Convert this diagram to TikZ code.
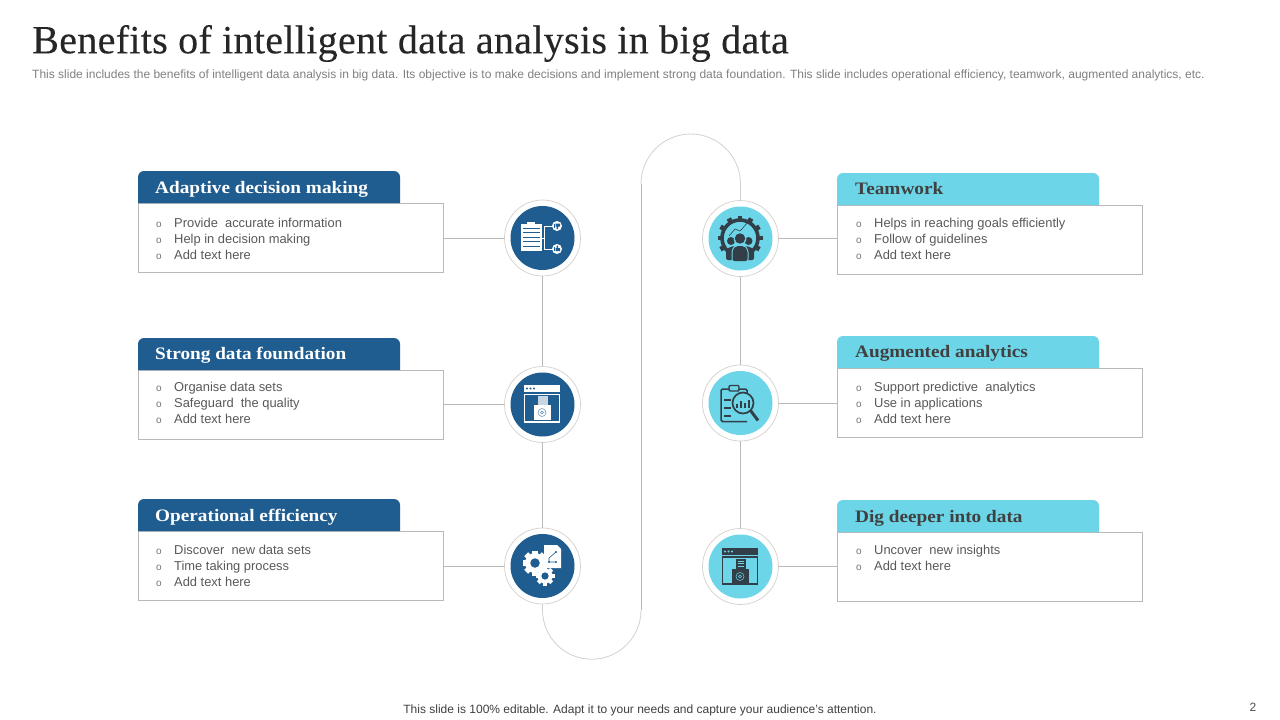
\documentclass[tikz,border=0pt]{standalone}
\usepackage{fontspec}
\setmainfont{Liberation Sans}
\newfontfamily\titlefont[LetterSpace=.7,FakeBold=.15]{Liberation Serif}
\newfontfamily\tabfont[FakeStretch=1.1]{Liberation Serif}
\definecolor{tabblue}{HTML}{1F5C8F}
\definecolor{tabcyan}{HTML}{6CD5E8}
\definecolor{icondark}{HTML}{333F48}
\definecolor{wirecol}{HTML}{B9B9B9}
\definecolor{ringcol}{HTML}{D6CFCB}
\definecolor{bodytext}{HTML}{595959}
\newcommand{\bul}{\makebox[18pt][l]{\textcolor{black!55}{\fontsize{10}{16}\selectfont o}}}
% one gear: x, y, radius, colour, colour of the hole
\newcommand{\cog}[5]{
  \foreach \a in {0,45,...,315} \fill[#4,shift={(#1,#2)},rotate=\a](-#3*.22,-#3*.75)rectangle(#3*.22,-#3);
  \fill[#4](#1,#2)circle(#3*.8);
  \fill[#5](#1,#2)circle(#3*.38);
}
% tab on top of a box: left, top, right, colour
\newcommand{\tabshape}[4]{
  \fill[#4](#1,#2+32)--(#1,#2+6)arc(180:270:6)--(#3-6,#2)arc(270:360:6)--(#3,#2+32)--cycle;
}
\tikzset{
  wire/.style={draw=wirecol,line width=.8pt},
  softwire/.style={draw=wirecol!65,line width=.8pt},
  bodybox/.style={draw=wirecol,fill=white,line width=.8pt,anchor=north west,minimum width=305pt,minimum height=68.5pt,inner sep=0pt},
  ring/.style={circle,draw=ringcol,fill=white,line width=.7pt,minimum size=76pt,inner sep=0pt},
  disc/.style={circle,minimum size=64pt,inner sep=0pt},
  tabtext/.style={anchor=base west,inner sep=0pt,font=\tabfont\fontsize{17.5}{17.5}\selectfont\bfseries},
  listtext/.style={anchor=north west,inner sep=0pt,align=left,text=bodytext,font=\fontsize{12.9}{16}\selectfont},
}
\begin{document}
\begin{tikzpicture}[x=1pt,y=-1pt]
  \useasboundingbox(0,0)rectangle(1280,720);
  \fill[white](0,0)rectangle(1280,720);
  \node[anchor=west,inner sep=0pt,text=black!85,font=\titlefont\fontsize{40.1}{40}\selectfont](title)at(32,43.5){Benefits of intelligent data analysis in big data};
  \node[anchor=west,inner sep=0pt,text=black!50,font=\fontsize{12}{14}\selectfont](subtitle)at(32,75.5){This slide includes the benefits of intelligent data analysis in big data. Its objective is to make decisions and implement strong data foundation. This slide includes operational efficiency, teamwork, augmented analytics, etc.};
  \node[inner sep=0pt,text=black!75,font=\fontsize{12}{14}\selectfont](footer)at(640,710){This slide is 100\% editable. Adapt it to your needs and capture your audience's attention.};
  \node[inner sep=0pt,text=black!70,font=\fontsize{12}{14}\selectfont](pagenum)at(1253,707){2};

  % rings
  \node[ring](ringa)at(542.5,238){};
  \node[ring](ringb)at(542.5,404.5){};
  \node[ring](ringc)at(542.5,566){};
  \node[ring](ringd)at(740.5,238.5){};
  \node[ring](ringe)at(740.5,403){};
  \node[ring](ringf)at(740.5,566.5){};
  \node[disc,fill=tabblue](disca)at(ringa){};
  \node[disc,fill=tabblue](discb)at(ringb){};
  \node[disc,fill=tabblue](discc)at(ringc){};
  \node[disc,fill=tabcyan](discd)at(ringd){};
  \node[disc,fill=tabcyan](disce)at(ringe){};
  \node[disc,fill=tabcyan](discf)at(ringf){};

  % spine
  \draw[wire](ringa)--(ringb);
  \draw[wire](ringb)--(ringc);
  \draw[wire](ringd)--(ringe);
  \draw[wire](ringe)--(ringf);
  \coordinate(bendlow)at(641,610);
  \coordinate(bendhigh)at(641,184);
  \draw[softwire](ringc.south)--(542.5,610)arc(180:0:49.25);
  \draw[wire](bendlow)--(bendhigh);
  \draw[softwire](bendhigh)arc(180:360:49.75 and 50)--(ringd.north);

  % boxes, left
  \node[bodybox](boxa)at(137.8,203){};
  \node[bodybox](boxb)at(137.8,370){};
  \node[bodybox](boxc)at(137.8,531){};
  \node[bodybox](boxd)at(836.8,205){};
  \node[bodybox](boxe)at(836.8,368){};
  \node[bodybox](boxf)at(836.8,532){};
  \tabshape{138}{171}{400}{tabblue}
  \tabshape{138}{338}{400}{tabblue}
  \tabshape{138}{499}{400}{tabblue}
  \tabshape{837}{173}{1099}{tabcyan}
  \tabshape{837}{336}{1099}{tabcyan}
  \tabshape{837}{500}{1099}{tabcyan}
  \node[tabtext,text=white](taba)at(155,193){Adaptive decision making};
  \node[tabtext,text=white](tabb)at(155,359){Strong data foundation};
  \node[tabtext,text=white](tabc)at(155,521){Operational efficiency};
  \node[tabtext,text=black!75](tabd)at(855,194){Teamwork};
  \node[tabtext,text=black!75](tabe)at(855,357){Augmented analytics};
  \node[tabtext,text=black!75](tabf)at(855,522){Dig deeper into data};
  \node[listtext](lista)at(156,218.2){\bul Provide\ \ accurate information\\\bul Help in decision making\\\bul Add text here};
  \node[listtext](listb)at(156,382.2){\bul Organise data sets\\\bul Safeguard\ \ the quality\\\bul Add text here};
  \node[listtext](listc)at(156,545.2){\bul Discover\ \ new data sets\\\bul Time taking process\\\bul Add text here};
  \node[listtext](listd)at(856,218.2){\bul Helps in reaching goals efficiently\\\bul Follow of guidelines\\\bul Add text here};
  \node[listtext](liste)at(856,382.2){\bul Support predictive\ \ analytics\\\bul Use in applications\\\bul Add text here};
  \node[listtext](listf)at(856,545.2){\bul Uncover\ \ new insights\\\bul Add text here};
  \draw[wire](ringa.west)--(ringa.west-|boxa.east);
  \draw[wire](ringb.west)--(ringb.west-|boxb.east);
  \draw[wire](ringc.west)--(ringc.west-|boxc.east);
  \draw[wire](ringd.east)--(ringd.east-|boxd.west);
  \draw[wire](ringe.east)--(ringe.east-|boxe.west);
  \draw[wire](ringf.east)--(ringf.east-|boxf.west);

  % icon: clipboard and thumbs
  \fill[white](520.5,223.5)rectangle(542,251);
  \fill[white](527,222)rectangle(535,225);
  \foreach \y in {228,232.5,237,241.5,246} \draw[tabblue,line width=.6pt](523,\y)--(539.5,\y);
  \draw[white,line width=.6pt](557,226)-|(544.5,249)--(557,249);
  \draw[white,line width=.6pt](542,238)--(544.5,238);
  \fill[white](557,226)circle(5);
  \fill[white](557,249)circle(5);
  \fill[tabblue](553.5,223.5)rectangle(555,227.5);
  \fill[tabblue](555.5,223.5)rectangle(560,226.5)(556.5,226.5)rectangle(558,229);
  \fill[tabblue](553.5,247)rectangle(555,251);
  \fill[tabblue](555.5,248)rectangle(560,251)(556.5,245.5)rectangle(558,248);

  % icon: browser with box
  \fill[white](524,385)rectangle(560,392);
  \foreach \x in {527,530.5,534} \fill[tabblue](\x,388.5)circle(1.1);
  \draw[white,line width=1.3pt](524.7,394.5)rectangle(559.3,422);
  \fill[white!75!tabblue](538,396)rectangle(548,405);
  \fill[white](533.5,405)rectangle(550.5,420);
  \draw[tabblue!70,line width=.5pt](542,412.5)circle(4);
  \draw[tabblue!70,line width=.5pt](542,412.5)circle(1.5);

  % icon: two gears and sheet
  \cog{535}{563}{12.5}{white}{tabblue}
  \cog{545}{576}{9.5}{white}{tabblue}
  \fill[white](544,545)--(557,545)--(561,549)--(561,568)--(544,568)--cycle;
  \draw[tabblue,line width=.6pt](549,562)--(556,562)(549,562)--(549,558)--(556,552);
  \fill[tabblue](549,562)circle(1.2)(556,562)circle(1.2)(556,552)circle(1.2);

  % icon: gear and people
  \foreach \a in {0,30,...,330} \fill[icondark,shift={(740,238)},rotate=\a](-2.4,-19)rectangle(2.4,-22.5);
  \draw[icondark,line width=3.6pt](740,238)circle(18);
  \draw[icondark,line width=.6pt](729,236)--(735,229)--(740,231)--(749,221);
  \fill[icondark](731,241)circle(4);
  \fill[icondark](748.5,241)circle(4);
  \fill[icondark,rounded corners=2pt](726,260)--(726,249)--(733,246)--(747,246)--(754,249)--(754,260)--cycle;
  \fill[tabcyan](740,238.5)circle(6.4);
  \fill[tabcyan,rounded corners=2pt](731.5,261)--(731.5,250)--(735,245)--(745,245)--(748.5,250)--(748.5,261)--cycle;
  \fill[icondark](740,238.5)circle(5.2);
  \fill[icondark,rounded corners=2pt](732.5,261)--(732.5,250)--(736,246)--(744,246)--(747.5,250)--(747.5,261)--cycle;

  % icon: clipboard and lens
  \draw[icondark,line width=1.5pt,rounded corners=1.5pt](730,389)--(721,389)--(721,421.5)--(747,421.5);
  \draw[icondark,line width=1.5pt,rounded corners=1.5pt](738,389)--(747,389)--(747,394);
  \draw[icondark,line width=1.4pt,rounded corners=1pt](729,391)--(729,385.5)--(739,385.5)--(739,391)--cycle;
  \foreach \y in {400,408,416} \draw[icondark,line width=1.2pt](724,\y)--(731,\y);
  \fill[tabcyan](743,403)circle(11);
  \draw[icondark,line width=1.7pt](743,403)circle(10.5);
  \draw[icondark,line width=3pt](750.5,410.5)--(758,420.5);
  \foreach \x/\h in {737/4,741/7,745/5,749/8} \fill[icondark](\x-1.2,408)rectangle(\x+1.2,408-\h);

  % icon: dark browser
  \fill[icondark](722,548)rectangle(758,555);
  \foreach \x in {725,728.5,732} \fill[tabcyan](\x,551.5)circle(1.1);
  \draw[icondark,line width=1.3pt](722.7,557)rectangle(757.3,584);
  \fill[icondark](736,559)rectangle(746,569);
  \foreach \y in {561,563.5,566} \draw[tabcyan,line width=.4pt](738,\y)--(744,\y);
  \fill[icondark](732,569)rectangle(748.5,584);
  \draw[tabcyan,line width=.5pt](740,576.5)circle(4);
  \draw[tabcyan,line width=.5pt](740,576.5)circle(1.5);
\end{tikzpicture}
\end{document}
